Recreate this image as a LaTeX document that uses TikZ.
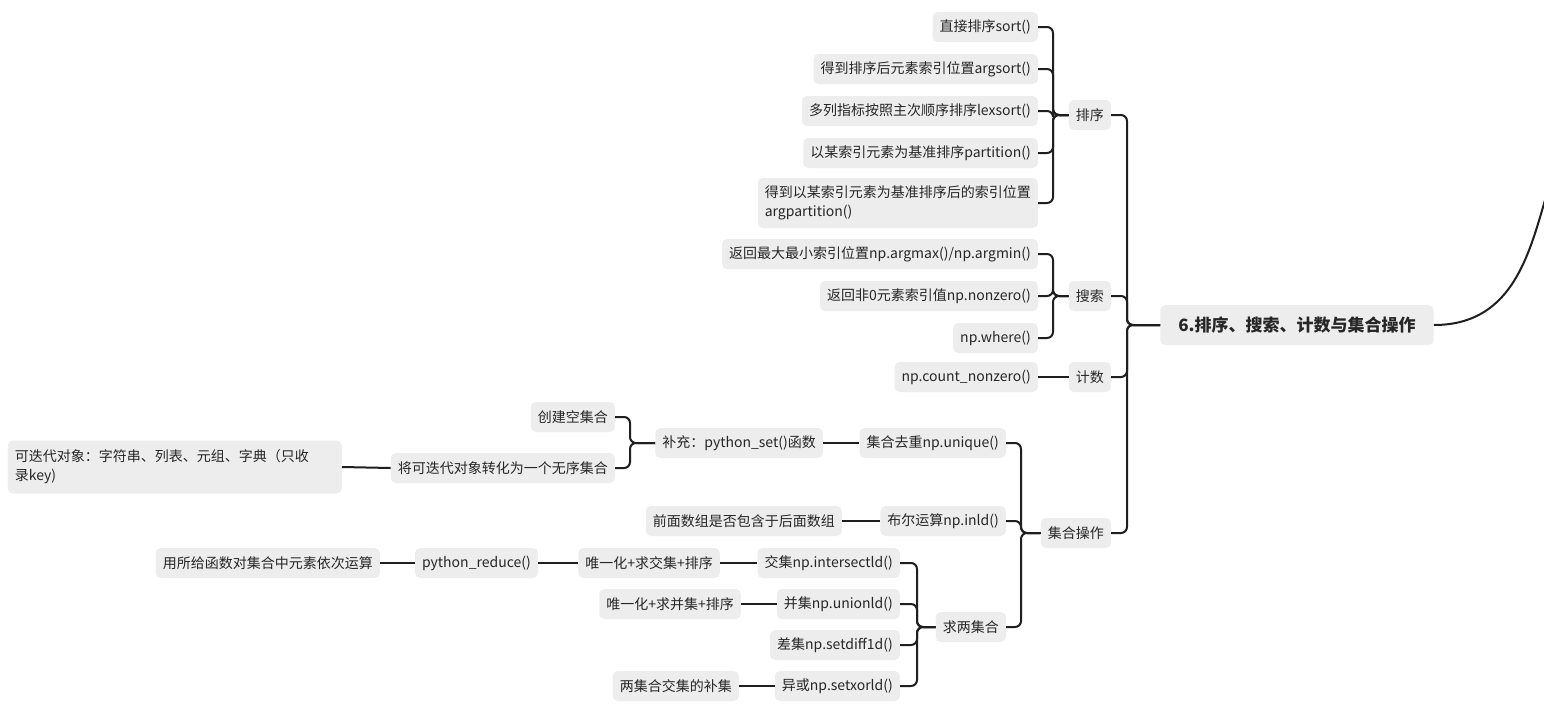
\documentclass[tikz,border=0pt]{standalone}
\usepackage{fontspec}
\setmainfont{Noto Sans CJK SC}
\begin{document}
\begin{tikzpicture}[x=1pt,y=-1pt,
  box/.style={fill=black!7,rounded corners=5pt,inner xsep=7pt,minimum height=30pt,font=\fontsize{14}{19}\selectfont,text=black!85,anchor=east},
  conn/.style={draw=black!88,line width=2pt,rounded corners=6pt}]
\useasboundingbox (0,0) rectangle (1544,723);
\fill[white] (0,0) rectangle (1544,723);
\node[box,anchor=center,minimum height=40pt,inner xsep=18pt,font=\fontsize{17}{20}\selectfont\bfseries] (root) at (1297,325) {6.排序、搜索、计数与集合操作};
\node[box] (px) at (1111,115) {排序};
\node[box] (ss) at (1111,296) {搜索};
\node[box] (js) at (1111,377) {计数};
\node[box] (jh) at (1111,533) {集合操作};
\node[box] (a1) at (1038,27) {直接排序sort()};
\node[box] (a2) at (1038,69) {得到排序后元素索引位置argsort()};
\node[box] (a3) at (1038,111) {多列指标按照主次顺序排序lexsort()};
\node[box] (a4) at (1038,153) {以某索引元素为基准排序partition()};
\node[box,minimum height=50pt,align=left] (a5) at (1038,203) {得到以某索引元素为基准排序后的索引位置\\argpartition()};
\node[box] (b1) at (1038,254) {返回最大最小索引位置np.argmax()/np.argmin()};
\node[box] (b2) at (1038,296) {返回非0元素索引值np.nonzero()};
\node[box] (b3) at (1038,338) {np.where()};
\node[box] (c1) at (1038,377) {np.count\_nonzero()};
\node[box] (d1) at (1006,443) {集合去重np.unique()};
\node[box] (d2) at (1006,521) {布尔运算np.inld()};
\node[box] (d3) at (1006,627) {求两集合};
\node[box] (e1) at (823,443) {补充：python\_set()函数};
\node[box] (e2) at (615,417) {创建空集合};
\node[box] (e3) at (615,468) {将可迭代对象转化为一个无序集合};
\node[box,minimum height=53pt,align=left,text width=320pt] (e4) at (342,467) {可迭代对象：字符串、列表、元组、字典（只收\\录key)};
\node[box] (f1) at (842,521) {前面数组是否包含于后面数组};
\node[box] (g1) at (900,563) {交集np.intersectld()};
\node[box] (g2) at (900,604) {并集np.unionld()};
\node[box] (g3) at (900,645) {差集np.setdiff1d()};
\node[box] (g4) at (900,686) {异或np.setxorld()};
\node[box] (h1) at (720,563) {唯一化+求交集+排序};
\node[box] (h2) at (538,563) {python\_reduce()};
\node[box] (h3) at (380,563) {用所给函数对集合中元素依次运算};
\node[box] (i1) at (741,604) {唯一化+求并集+排序};
\node[box] (j1) at (739,686) {两集合交集的补集};
\coordinate (s0) at (1127,0);
\coordinate (s1) at (1053,0);
\coordinate (s2) at (1021,0);
\coordinate (s3) at (630,0);
\coordinate (s4) at (917,0);
\coordinate (exit) at (1548,190);
\draw[conn,rounded corners=0pt] (root.east) .. controls (1515,325) and (1530,250) .. (exit);
\foreach \c in {px,ss,js,jh}{\draw[conn] (root.west) -- (s0 |- root.west) -- (s0 |- \c.east) -- (\c.east);}
\foreach \c in {a1,a2,a3,a4,a5}{\draw[conn] (px.west) -- (s1 |- px.west) -- (s1 |- \c.east) -- (\c.east);}
\foreach \c in {b1,b2,b3}{\draw[conn] (ss.west) -- (s1 |- ss.west) -- (s1 |- \c.east) -- (\c.east);}
\draw[conn] (js.west) -- (c1.east);
\foreach \c in {d1,d2,d3}{\draw[conn] (jh.west) -- (s2 |- jh.west) -- (s2 |- \c.east) -- (\c.east);}
\draw[conn] (d1.west) -- (e1.east);
\foreach \c in {e2,e3}{\draw[conn] (e1.west) -- (s3 |- e1.west) -- (s3 |- \c.east) -- (\c.east);}
\draw[conn] (e3.west) -- (e4.east);
\draw[conn] (d2.west) -- (f1.east);
\foreach \c in {g1,g2,g3,g4}{\draw[conn] (d3.west) -- (s4 |- d3.west) -- (s4 |- \c.east) -- (\c.east);}
\draw[conn] (g1.west) -- (h1.east);
\draw[conn] (h1.west) -- (h2.east);
\draw[conn] (h2.west) -- (h3.east);
\draw[conn] (g2.west) -- (i1.east);
\draw[conn] (g4.west) -- (j1.east);
\end{tikzpicture}
\end{document}
